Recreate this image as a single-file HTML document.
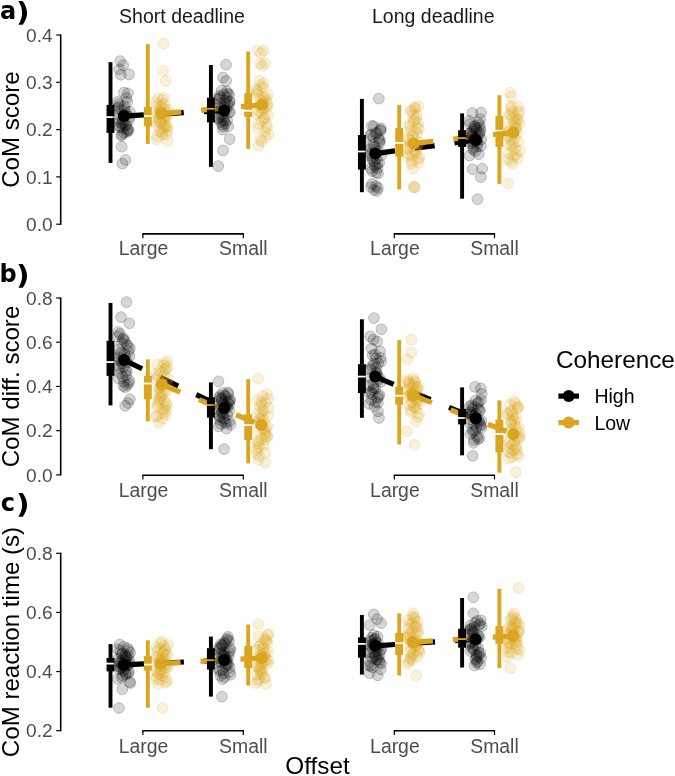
<!DOCTYPE html>
<html><head><meta charset="utf-8"><title>CoM figure</title>
<style>html,body{margin:0;padding:0;background:#fff}svg{display:block}</style>
</head><body>
<svg width="675" height="776" viewBox="0 0 675 776">
<rect width="675" height="776" fill="#fff"/>
<line x1="123.9" y1="116.1" x2="224.1" y2="110.4" stroke="#000000" stroke-width="5.2" stroke-dasharray="20 20"/>
<line x1="161.3" y1="113.6" x2="262.0" y2="104.8" stroke="#DAA520" stroke-width="5.2" stroke-dasharray="20 20"/>
<rect x="108.55" y="62.2" width="3.9" height="43.2" fill="#000000"/>
<rect x="108.55" y="132.4" width="3.9" height="30.5" fill="#000000"/>
<rect x="106.55" y="104.9" width="7.9" height="11.3" fill="#000000"/>
<rect x="106.55" y="118.0" width="7.9" height="14.9" fill="#000000"/>
<rect x="145.85" y="44.2" width="3.9" height="63.3" fill="#DAA520"/>
<rect x="145.85" y="125.8" width="3.9" height="18.1" fill="#DAA520"/>
<rect x="143.85" y="107.0" width="7.9" height="8.1" fill="#DAA520"/>
<rect x="143.85" y="116.9" width="7.9" height="9.4" fill="#DAA520"/>
<rect x="208.95" y="65.0" width="3.9" height="33.2" fill="#000000"/>
<rect x="208.95" y="121.9" width="3.9" height="45.0" fill="#000000"/>
<rect x="206.95" y="97.7" width="7.9" height="10.2" fill="#000000"/>
<rect x="206.95" y="109.7" width="7.9" height="12.7" fill="#000000"/>
<rect x="246.25" y="51.5" width="3.9" height="42.1" fill="#DAA520"/>
<rect x="246.25" y="116.4" width="3.9" height="32.5" fill="#DAA520"/>
<rect x="244.25" y="93.1" width="7.9" height="16.7" fill="#DAA520"/>
<rect x="244.25" y="111.6" width="7.9" height="5.3" fill="#DAA520"/>
<g fill="#000000" fill-opacity="0.16" stroke="#000000" stroke-opacity="0.25" stroke-width="0.8"><circle cx="120.1" cy="61.1" r="5.4"/><circle cx="123.2" cy="65.2" r="5.4"/><circle cx="119.3" cy="69.3" r="5.4"/><circle cx="120.9" cy="74.8" r="5.4"/><circle cx="129.1" cy="74.4" r="5.4"/><circle cx="124.0" cy="92.6" r="5.4"/><circle cx="127.9" cy="93.3" r="5.4"/><circle cx="126.3" cy="98.0" r="5.4"/><circle cx="117.8" cy="101.8" r="5.4"/><circle cx="121.7" cy="146.7" r="5.4"/><circle cx="125.5" cy="159.9" r="5.4"/><circle cx="122.4" cy="163.7" r="5.4"/><circle cx="118.6" cy="106.8" r="5.4"/><circle cx="126.4" cy="124.8" r="5.4"/><circle cx="121.6" cy="123.9" r="5.4"/><circle cx="129.4" cy="116.9" r="5.4"/><circle cx="124.6" cy="109.5" r="5.4"/><circle cx="119.7" cy="122.2" r="5.4"/><circle cx="127.5" cy="128.9" r="5.4"/><circle cx="122.7" cy="127.9" r="5.4"/><circle cx="117.9" cy="108.2" r="5.4"/><circle cx="125.7" cy="116.0" r="5.4"/><circle cx="120.9" cy="110.2" r="5.4"/><circle cx="128.7" cy="130.6" r="5.4"/><circle cx="123.9" cy="132.9" r="5.4"/><circle cx="119.0" cy="104.0" r="5.4"/><circle cx="126.8" cy="132.0" r="5.4"/><circle cx="122.0" cy="134.5" r="5.4"/><circle cx="129.8" cy="111.7" r="5.4"/><circle cx="125.0" cy="114.6" r="5.4"/><circle cx="120.2" cy="127.5" r="5.4"/><circle cx="128.0" cy="129.9" r="5.4"/><circle cx="123.2" cy="123.2" r="5.4"/><circle cx="118.3" cy="118.8" r="5.4"/><circle cx="126.1" cy="113.0" r="5.4"/><circle cx="121.3" cy="135.7" r="5.4"/><circle cx="129.1" cy="119.8" r="5.4"/><circle cx="124.3" cy="106.1" r="5.4"/><circle cx="119.5" cy="126.1" r="5.4"/><circle cx="127.3" cy="101.9" r="5.4"/><circle cx="122.5" cy="120.3" r="5.4"/><circle cx="117.6" cy="114.3" r="5.4"/><circle cx="125.4" cy="125.3" r="5.4"/></g>
<g fill="#DAA520" fill-opacity="0.16" stroke="#DAA520" stroke-opacity="0.25" stroke-width="0.8"><circle cx="163.5" cy="43.5" r="5.4"/><circle cx="163.1" cy="70.9" r="5.4"/><circle cx="165.8" cy="80.9" r="5.4"/><circle cx="166.5" cy="126.0" r="5.4"/><circle cx="161.7" cy="131.8" r="5.4"/><circle cx="156.9" cy="139.4" r="5.4"/><circle cx="164.7" cy="127.5" r="5.4"/><circle cx="159.8" cy="120.0" r="5.4"/><circle cx="167.6" cy="130.5" r="5.4"/><circle cx="162.8" cy="120.4" r="5.4"/><circle cx="158.0" cy="98.5" r="5.4"/><circle cx="165.8" cy="115.5" r="5.4"/><circle cx="161.0" cy="123.2" r="5.4"/><circle cx="156.2" cy="102.3" r="5.4"/><circle cx="164.0" cy="108.7" r="5.4"/><circle cx="159.1" cy="109.9" r="5.4"/><circle cx="166.9" cy="127.8" r="5.4"/><circle cx="162.1" cy="99.8" r="5.4"/><circle cx="157.3" cy="105.6" r="5.4"/><circle cx="165.1" cy="116.4" r="5.4"/><circle cx="160.3" cy="107.0" r="5.4"/><circle cx="168.1" cy="109.5" r="5.4"/><circle cx="163.2" cy="129.0" r="5.4"/><circle cx="158.4" cy="118.6" r="5.4"/><circle cx="166.2" cy="134.2" r="5.4"/><circle cx="161.4" cy="111.7" r="5.4"/><circle cx="156.6" cy="125.5" r="5.4"/><circle cx="164.4" cy="124.8" r="5.4"/><circle cx="159.6" cy="131.4" r="5.4"/><circle cx="167.4" cy="140.8" r="5.4"/><circle cx="162.5" cy="134.6" r="5.4"/><circle cx="157.7" cy="114.1" r="5.4"/><circle cx="165.5" cy="118.3" r="5.4"/><circle cx="160.7" cy="111.0" r="5.4"/><circle cx="155.9" cy="121.5" r="5.4"/><circle cx="163.7" cy="97.6" r="5.4"/><circle cx="158.9" cy="114.3" r="5.4"/><circle cx="166.7" cy="112.5" r="5.4"/><circle cx="161.8" cy="104.5" r="5.4"/><circle cx="157.0" cy="136.3" r="5.4"/><circle cx="164.8" cy="103.9" r="5.4"/><circle cx="160.0" cy="122.2" r="5.4"/><circle cx="167.8" cy="117.0" r="5.4"/></g>
<g fill="#000000" fill-opacity="0.16" stroke="#000000" stroke-opacity="0.25" stroke-width="0.8"><circle cx="226.1" cy="64.7" r="5.4"/><circle cx="223.0" cy="77.4" r="5.4"/><circle cx="226.1" cy="80.9" r="5.4"/><circle cx="229.6" cy="139.1" r="5.4"/><circle cx="223.0" cy="150.4" r="5.4"/><circle cx="218.3" cy="166.1" r="5.4"/><circle cx="221.1" cy="117.2" r="5.4"/><circle cx="228.9" cy="105.4" r="5.4"/><circle cx="224.1" cy="94.4" r="5.4"/><circle cx="219.3" cy="95.9" r="5.4"/><circle cx="227.1" cy="120.2" r="5.4"/><circle cx="222.3" cy="124.6" r="5.4"/><circle cx="230.1" cy="112.1" r="5.4"/><circle cx="225.3" cy="123.8" r="5.4"/><circle cx="220.4" cy="97.3" r="5.4"/><circle cx="228.2" cy="126.3" r="5.4"/><circle cx="223.4" cy="119.7" r="5.4"/><circle cx="218.6" cy="99.7" r="5.4"/><circle cx="226.4" cy="97.6" r="5.4"/><circle cx="221.6" cy="90.6" r="5.4"/><circle cx="229.4" cy="101.9" r="5.4"/><circle cx="224.6" cy="103.2" r="5.4"/><circle cx="219.7" cy="107.4" r="5.4"/><circle cx="227.5" cy="104.2" r="5.4"/><circle cx="222.7" cy="129.7" r="5.4"/><circle cx="217.9" cy="118.8" r="5.4"/><circle cx="225.7" cy="100.8" r="5.4"/><circle cx="220.9" cy="122.0" r="5.4"/><circle cx="228.7" cy="112.8" r="5.4"/><circle cx="223.8" cy="116.1" r="5.4"/><circle cx="219.0" cy="117.9" r="5.4"/><circle cx="226.8" cy="91.5" r="5.4"/><circle cx="222.0" cy="114.4" r="5.4"/><circle cx="229.8" cy="101.4" r="5.4"/><circle cx="225.0" cy="106.6" r="5.4"/><circle cx="220.2" cy="103.5" r="5.4"/><circle cx="228.0" cy="93.6" r="5.4"/><circle cx="223.1" cy="126.4" r="5.4"/><circle cx="218.3" cy="98.6" r="5.4"/><circle cx="226.1" cy="110.3" r="5.4"/><circle cx="221.3" cy="108.7" r="5.4"/><circle cx="229.1" cy="95.1" r="5.4"/><circle cx="224.3" cy="121.0" r="5.4"/></g>
<g fill="#DAA520" fill-opacity="0.16" stroke="#DAA520" stroke-opacity="0.25" stroke-width="0.8"><circle cx="257.4" cy="50.8" r="5.4"/><circle cx="263.5" cy="50.4" r="5.4"/><circle cx="260.9" cy="53.0" r="5.4"/><circle cx="260.0" cy="63.5" r="5.4"/><circle cx="265.2" cy="63.5" r="5.4"/><circle cx="262.0" cy="66.0" r="5.4"/><circle cx="267.8" cy="106.2" r="5.4"/><circle cx="263.0" cy="109.3" r="5.4"/><circle cx="258.2" cy="128.4" r="5.4"/><circle cx="265.9" cy="108.3" r="5.4"/><circle cx="261.1" cy="113.0" r="5.4"/><circle cx="256.3" cy="89.5" r="5.4"/><circle cx="264.1" cy="119.0" r="5.4"/><circle cx="259.3" cy="81.0" r="5.4"/><circle cx="267.1" cy="127.3" r="5.4"/><circle cx="262.3" cy="107.9" r="5.4"/><circle cx="257.5" cy="94.3" r="5.4"/><circle cx="265.2" cy="97.1" r="5.4"/><circle cx="260.4" cy="99.5" r="5.4"/><circle cx="268.2" cy="115.1" r="5.4"/><circle cx="263.4" cy="97.4" r="5.4"/><circle cx="258.6" cy="145.7" r="5.4"/><circle cx="266.4" cy="100.8" r="5.4"/><circle cx="261.6" cy="141.3" r="5.4"/><circle cx="256.8" cy="92.3" r="5.4"/><circle cx="264.5" cy="117.7" r="5.4"/><circle cx="259.7" cy="104.6" r="5.4"/><circle cx="267.5" cy="103.5" r="5.4"/><circle cx="262.7" cy="86.9" r="5.4"/><circle cx="257.9" cy="91.0" r="5.4"/><circle cx="265.7" cy="137.0" r="5.4"/><circle cx="260.9" cy="85.3" r="5.4"/><circle cx="268.6" cy="134.3" r="5.4"/><circle cx="263.8" cy="83.4" r="5.4"/><circle cx="259.0" cy="123.5" r="5.4"/><circle cx="266.8" cy="124.4" r="5.4"/><circle cx="262.0" cy="120.3" r="5.4"/><circle cx="257.2" cy="113.7" r="5.4"/><circle cx="265.0" cy="131.2" r="5.4"/><circle cx="260.2" cy="139.8" r="5.4"/><circle cx="267.9" cy="94.6" r="5.4"/><circle cx="263.1" cy="101.6" r="5.4"/><circle cx="258.3" cy="111.1" r="5.4"/></g>
<circle cx="123.9" cy="116.1" r="6" fill="#000000"/>
<circle cx="161.3" cy="113.6" r="6" fill="#DAA520"/>
<circle cx="224.1" cy="110.4" r="6" fill="#000000"/>
<circle cx="262.0" cy="104.8" r="6" fill="#DAA520"/>
<line x1="375.2" y1="153.6" x2="475.7" y2="140.1" stroke="#000000" stroke-width="5.2" stroke-dasharray="20 20"/>
<line x1="413.5" y1="143.4" x2="513.4" y2="132.4" stroke="#DAA520" stroke-width="5.2" stroke-dasharray="20 20"/>
<rect x="359.95" y="98.9" width="3.9" height="36.6" fill="#000000"/>
<rect x="359.95" y="169.1" width="3.9" height="23.1" fill="#000000"/>
<rect x="357.95" y="135.0" width="7.9" height="15.6" fill="#000000"/>
<rect x="357.95" y="152.4" width="7.9" height="17.2" fill="#000000"/>
<rect x="397.25" y="105.0" width="3.9" height="23.5" fill="#DAA520"/>
<rect x="397.25" y="156.0" width="3.9" height="33.3" fill="#DAA520"/>
<rect x="395.25" y="128.0" width="7.9" height="14.0" fill="#DAA520"/>
<rect x="395.25" y="143.8" width="7.9" height="12.7" fill="#DAA520"/>
<rect x="460.15" y="113.4" width="3.9" height="17.3" fill="#000000"/>
<rect x="460.15" y="146.4" width="3.9" height="52.3" fill="#000000"/>
<rect x="458.15" y="130.2" width="7.9" height="7.0" fill="#000000"/>
<rect x="458.15" y="139.0" width="7.9" height="7.9" fill="#000000"/>
<rect x="497.45" y="95.2" width="3.9" height="21.3" fill="#DAA520"/>
<rect x="497.45" y="146.4" width="3.9" height="37.5" fill="#DAA520"/>
<rect x="495.45" y="116.0" width="7.9" height="13.9" fill="#DAA520"/>
<rect x="495.45" y="131.7" width="7.9" height="15.2" fill="#DAA520"/>
<g fill="#000000" fill-opacity="0.16" stroke="#000000" stroke-opacity="0.25" stroke-width="0.8"><circle cx="378.8" cy="98.6" r="5.4"/><circle cx="372.0" cy="184.0" r="5.4"/><circle cx="376.0" cy="186.0" r="5.4"/><circle cx="378.0" cy="188.0" r="5.4"/><circle cx="374.0" cy="190.0" r="5.4"/><circle cx="371.0" cy="187.0" r="5.4"/><circle cx="377.0" cy="191.0" r="5.4"/><circle cx="379.4" cy="143.0" r="5.4"/><circle cx="374.6" cy="147.0" r="5.4"/><circle cx="369.8" cy="149.1" r="5.4"/><circle cx="377.6" cy="168.1" r="5.4"/><circle cx="372.8" cy="160.4" r="5.4"/><circle cx="380.6" cy="130.6" r="5.4"/><circle cx="375.8" cy="150.1" r="5.4"/><circle cx="370.9" cy="168.3" r="5.4"/><circle cx="378.7" cy="151.4" r="5.4"/><circle cx="373.9" cy="126.3" r="5.4"/><circle cx="369.1" cy="146.1" r="5.4"/><circle cx="376.9" cy="132.8" r="5.4"/><circle cx="372.1" cy="171.1" r="5.4"/><circle cx="379.9" cy="139.9" r="5.4"/><circle cx="375.1" cy="166.6" r="5.4"/><circle cx="370.2" cy="135.4" r="5.4"/><circle cx="378.0" cy="173.4" r="5.4"/><circle cx="373.2" cy="137.3" r="5.4"/><circle cx="381.0" cy="128.2" r="5.4"/><circle cx="376.2" cy="172.5" r="5.4"/><circle cx="371.4" cy="134.4" r="5.4"/><circle cx="379.2" cy="162.9" r="5.4"/><circle cx="374.4" cy="161.4" r="5.4"/><circle cx="369.5" cy="155.8" r="5.4"/><circle cx="377.3" cy="164.2" r="5.4"/><circle cx="372.5" cy="157.4" r="5.4"/><circle cx="380.3" cy="130.0" r="5.4"/><circle cx="375.5" cy="133.2" r="5.4"/><circle cx="370.7" cy="153.5" r="5.4"/><circle cx="378.5" cy="138.3" r="5.4"/><circle cx="373.7" cy="144.9" r="5.4"/><circle cx="381.4" cy="155.3" r="5.4"/><circle cx="376.6" cy="158.7" r="5.4"/><circle cx="371.8" cy="125.8" r="5.4"/><circle cx="379.6" cy="141.3" r="5.4"/><circle cx="374.8" cy="164.9" r="5.4"/></g>
<g fill="#DAA520" fill-opacity="0.16" stroke="#DAA520" stroke-opacity="0.25" stroke-width="0.8"><circle cx="414.2" cy="186.6" r="5.4"/><circle cx="414.8" cy="187.6" r="5.4"/><circle cx="413.6" cy="187.2" r="5.4"/><circle cx="418.0" cy="158.8" r="5.4"/><circle cx="413.2" cy="136.8" r="5.4"/><circle cx="408.3" cy="149.0" r="5.4"/><circle cx="416.1" cy="150.0" r="5.4"/><circle cx="411.3" cy="163.7" r="5.4"/><circle cx="419.1" cy="129.0" r="5.4"/><circle cx="414.3" cy="107.4" r="5.4"/><circle cx="409.5" cy="124.0" r="5.4"/><circle cx="417.3" cy="133.5" r="5.4"/><circle cx="412.5" cy="135.6" r="5.4"/><circle cx="407.6" cy="137.8" r="5.4"/><circle cx="415.4" cy="108.2" r="5.4"/><circle cx="410.6" cy="142.8" r="5.4"/><circle cx="418.4" cy="106.4" r="5.4"/><circle cx="413.6" cy="121.2" r="5.4"/><circle cx="408.8" cy="140.0" r="5.4"/><circle cx="416.6" cy="115.4" r="5.4"/><circle cx="411.8" cy="110.1" r="5.4"/><circle cx="419.5" cy="142.3" r="5.4"/><circle cx="414.7" cy="131.7" r="5.4"/><circle cx="409.9" cy="144.8" r="5.4"/><circle cx="417.7" cy="127.4" r="5.4"/><circle cx="412.9" cy="168.5" r="5.4"/><circle cx="408.1" cy="156.7" r="5.4"/><circle cx="415.9" cy="153.0" r="5.4"/><circle cx="411.0" cy="130.8" r="5.4"/><circle cx="418.8" cy="162.8" r="5.4"/><circle cx="414.0" cy="120.2" r="5.4"/><circle cx="409.2" cy="126.3" r="5.4"/><circle cx="417.0" cy="146.8" r="5.4"/><circle cx="412.2" cy="155.6" r="5.4"/><circle cx="407.4" cy="148.0" r="5.4"/><circle cx="415.2" cy="151.1" r="5.4"/><circle cx="410.3" cy="111.9" r="5.4"/><circle cx="418.1" cy="122.9" r="5.4"/><circle cx="413.3" cy="114.1" r="5.4"/><circle cx="408.5" cy="154.0" r="5.4"/><circle cx="416.3" cy="118.6" r="5.4"/><circle cx="411.5" cy="160.8" r="5.4"/><circle cx="419.3" cy="157.6" r="5.4"/></g>
<g fill="#000000" fill-opacity="0.16" stroke="#000000" stroke-opacity="0.25" stroke-width="0.8"><circle cx="472.4" cy="112.9" r="5.4"/><circle cx="480.9" cy="112.5" r="5.4"/><circle cx="472.4" cy="169.3" r="5.4"/><circle cx="482.2" cy="168.6" r="5.4"/><circle cx="480.9" cy="177.1" r="5.4"/><circle cx="477.5" cy="199.2" r="5.4"/><circle cx="476.8" cy="140.2" r="5.4"/><circle cx="472.0" cy="144.1" r="5.4"/><circle cx="479.7" cy="124.8" r="5.4"/><circle cx="474.9" cy="126.0" r="5.4"/><circle cx="470.1" cy="132.9" r="5.4"/><circle cx="477.9" cy="136.1" r="5.4"/><circle cx="473.1" cy="149.5" r="5.4"/><circle cx="480.9" cy="146.1" r="5.4"/><circle cx="476.1" cy="127.8" r="5.4"/><circle cx="471.3" cy="142.9" r="5.4"/><circle cx="479.0" cy="132.4" r="5.4"/><circle cx="474.2" cy="129.2" r="5.4"/><circle cx="469.4" cy="155.6" r="5.4"/><circle cx="477.2" cy="146.4" r="5.4"/><circle cx="472.4" cy="135.1" r="5.4"/><circle cx="480.2" cy="119.1" r="5.4"/><circle cx="475.4" cy="151.2" r="5.4"/><circle cx="470.5" cy="133.4" r="5.4"/><circle cx="478.3" cy="122.5" r="5.4"/><circle cx="473.5" cy="147.6" r="5.4"/><circle cx="481.3" cy="139.2" r="5.4"/><circle cx="476.5" cy="130.2" r="5.4"/><circle cx="471.7" cy="137.4" r="5.4"/><circle cx="479.5" cy="134.1" r="5.4"/><circle cx="474.7" cy="138.5" r="5.4"/><circle cx="469.8" cy="124.0" r="5.4"/><circle cx="477.6" cy="143.3" r="5.4"/><circle cx="472.8" cy="141.5" r="5.4"/><circle cx="480.6" cy="130.8" r="5.4"/><circle cx="475.8" cy="138.0" r="5.4"/><circle cx="471.0" cy="135.7" r="5.4"/><circle cx="478.8" cy="154.2" r="5.4"/><circle cx="474.0" cy="126.9" r="5.4"/><circle cx="469.1" cy="120.8" r="5.4"/><circle cx="476.9" cy="141.3" r="5.4"/><circle cx="472.1" cy="131.5" r="5.4"/><circle cx="479.9" cy="127.9" r="5.4"/></g>
<g fill="#DAA520" fill-opacity="0.16" stroke="#DAA520" stroke-opacity="0.25" stroke-width="0.8"><circle cx="510.3" cy="92.7" r="5.4"/><circle cx="511.1" cy="96.6" r="5.4"/><circle cx="508.0" cy="183.3" r="5.4"/><circle cx="507.5" cy="127.0" r="5.4"/><circle cx="515.3" cy="148.6" r="5.4"/><circle cx="510.5" cy="161.8" r="5.4"/><circle cx="518.3" cy="141.2" r="5.4"/><circle cx="513.5" cy="156.5" r="5.4"/><circle cx="508.7" cy="153.5" r="5.4"/><circle cx="516.5" cy="127.9" r="5.4"/><circle cx="511.7" cy="144.4" r="5.4"/><circle cx="519.4" cy="123.7" r="5.4"/><circle cx="514.6" cy="138.0" r="5.4"/><circle cx="509.8" cy="146.0" r="5.4"/><circle cx="517.6" cy="158.1" r="5.4"/><circle cx="512.8" cy="164.0" r="5.4"/><circle cx="508.0" cy="135.5" r="5.4"/><circle cx="515.8" cy="129.0" r="5.4"/><circle cx="511.0" cy="108.2" r="5.4"/><circle cx="518.7" cy="113.4" r="5.4"/><circle cx="513.9" cy="121.7" r="5.4"/><circle cx="509.1" cy="114.1" r="5.4"/><circle cx="516.9" cy="119.3" r="5.4"/><circle cx="512.1" cy="117.9" r="5.4"/><circle cx="519.9" cy="150.7" r="5.4"/><circle cx="515.1" cy="116.9" r="5.4"/><circle cx="510.3" cy="115.5" r="5.4"/><circle cx="518.0" cy="106.4" r="5.4"/><circle cx="513.2" cy="150.0" r="5.4"/><circle cx="508.4" cy="132.1" r="5.4"/><circle cx="516.2" cy="154.8" r="5.4"/><circle cx="511.4" cy="106.1" r="5.4"/><circle cx="519.2" cy="111.1" r="5.4"/><circle cx="514.4" cy="125.3" r="5.4"/><circle cx="509.6" cy="130.3" r="5.4"/><circle cx="517.3" cy="132.7" r="5.4"/><circle cx="512.5" cy="111.7" r="5.4"/><circle cx="507.7" cy="159.1" r="5.4"/><circle cx="515.5" cy="123.2" r="5.4"/><circle cx="510.7" cy="139.8" r="5.4"/><circle cx="518.5" cy="119.7" r="5.4"/><circle cx="513.7" cy="142.4" r="5.4"/><circle cx="508.8" cy="136.7" r="5.4"/></g>
<circle cx="375.2" cy="153.6" r="6" fill="#000000"/>
<circle cx="413.5" cy="143.4" r="6" fill="#DAA520"/>
<circle cx="475.7" cy="140.1" r="6" fill="#000000"/>
<circle cx="513.4" cy="132.4" r="6" fill="#DAA520"/>
<line x1="124.1" y1="360.1" x2="224.1" y2="408.0" stroke="#000000" stroke-width="5.2" stroke-dasharray="20 20"/>
<line x1="161.8" y1="384.6" x2="261.3" y2="425.1" stroke="#DAA520" stroke-width="5.2" stroke-dasharray="20 20"/>
<rect x="108.55" y="303.0" width="3.9" height="38.3" fill="#000000"/>
<rect x="108.55" y="375.4" width="3.9" height="30.0" fill="#000000"/>
<rect x="106.55" y="340.8" width="7.9" height="20.4" fill="#000000"/>
<rect x="106.55" y="363.0" width="7.9" height="12.9" fill="#000000"/>
<rect x="145.85" y="359.4" width="3.9" height="17.0" fill="#DAA520"/>
<rect x="145.85" y="398.8" width="3.9" height="22.6" fill="#DAA520"/>
<rect x="143.85" y="375.9" width="7.9" height="6.7" fill="#DAA520"/>
<rect x="143.85" y="384.4" width="7.9" height="14.9" fill="#DAA520"/>
<rect x="208.95" y="382.4" width="3.9" height="15.3" fill="#000000"/>
<rect x="208.95" y="417.1" width="3.9" height="32.1" fill="#000000"/>
<rect x="206.95" y="397.2" width="7.9" height="6.9" fill="#000000"/>
<rect x="206.95" y="405.9" width="7.9" height="11.7" fill="#000000"/>
<rect x="246.25" y="379.1" width="3.9" height="35.6" fill="#DAA520"/>
<rect x="246.25" y="439.5" width="3.9" height="23.9" fill="#DAA520"/>
<rect x="244.25" y="414.2" width="7.9" height="10.0" fill="#DAA520"/>
<rect x="244.25" y="426.0" width="7.9" height="14.0" fill="#DAA520"/>
<g fill="#000000" fill-opacity="0.16" stroke="#000000" stroke-opacity="0.25" stroke-width="0.8"><circle cx="126.5" cy="302.1" r="5.4"/><circle cx="121.1" cy="317.1" r="5.4"/><circle cx="129.5" cy="323.3" r="5.4"/><circle cx="118.3" cy="332.0" r="5.4"/><circle cx="128.0" cy="403.0" r="5.4"/><circle cx="125.2" cy="405.8" r="5.4"/><circle cx="129.9" cy="399.3" r="5.4"/><circle cx="123.5" cy="366.9" r="5.4"/><circle cx="118.7" cy="349.4" r="5.4"/><circle cx="126.5" cy="344.4" r="5.4"/><circle cx="121.7" cy="343.2" r="5.4"/><circle cx="129.5" cy="356.3" r="5.4"/><circle cx="124.7" cy="340.9" r="5.4"/><circle cx="119.9" cy="334.0" r="5.4"/><circle cx="127.6" cy="362.6" r="5.4"/><circle cx="122.8" cy="339.5" r="5.4"/><circle cx="118.0" cy="365.4" r="5.4"/><circle cx="125.8" cy="358.1" r="5.4"/><circle cx="121.0" cy="352.3" r="5.4"/><circle cx="128.8" cy="382.9" r="5.4"/><circle cx="124.0" cy="381.9" r="5.4"/><circle cx="119.2" cy="360.6" r="5.4"/><circle cx="126.9" cy="371.2" r="5.4"/><circle cx="122.1" cy="363.5" r="5.4"/><circle cx="129.9" cy="348.4" r="5.4"/><circle cx="125.1" cy="387.1" r="5.4"/><circle cx="120.3" cy="354.3" r="5.4"/><circle cx="128.1" cy="346.0" r="5.4"/><circle cx="123.3" cy="385.9" r="5.4"/><circle cx="118.5" cy="378.4" r="5.4"/><circle cx="126.2" cy="375.2" r="5.4"/><circle cx="121.4" cy="360.9" r="5.4"/><circle cx="129.2" cy="380.5" r="5.4"/><circle cx="124.4" cy="353.9" r="5.4"/><circle cx="119.6" cy="367.6" r="5.4"/><circle cx="127.4" cy="385.0" r="5.4"/><circle cx="122.6" cy="376.7" r="5.4"/><circle cx="117.8" cy="336.5" r="5.4"/><circle cx="125.5" cy="370.5" r="5.4"/><circle cx="120.7" cy="373.2" r="5.4"/><circle cx="128.5" cy="351.5" r="5.4"/><circle cx="123.7" cy="338.3" r="5.4"/><circle cx="118.9" cy="357.8" r="5.4"/></g>
<g fill="#DAA520" fill-opacity="0.16" stroke="#DAA520" stroke-opacity="0.25" stroke-width="0.8"><circle cx="167.3" cy="361.5" r="5.4"/><circle cx="162.4" cy="418.7" r="5.4"/><circle cx="157.6" cy="364.6" r="5.4"/><circle cx="165.4" cy="369.8" r="5.4"/><circle cx="160.6" cy="398.8" r="5.4"/><circle cx="155.8" cy="416.8" r="5.4"/><circle cx="163.6" cy="365.5" r="5.4"/><circle cx="158.8" cy="399.6" r="5.4"/><circle cx="166.6" cy="405.3" r="5.4"/><circle cx="161.7" cy="383.0" r="5.4"/><circle cx="156.9" cy="407.0" r="5.4"/><circle cx="164.7" cy="362.9" r="5.4"/><circle cx="159.9" cy="387.7" r="5.4"/><circle cx="167.7" cy="384.1" r="5.4"/><circle cx="162.9" cy="412.5" r="5.4"/><circle cx="158.1" cy="401.8" r="5.4"/><circle cx="165.8" cy="368.4" r="5.4"/><circle cx="161.0" cy="385.8" r="5.4"/><circle cx="156.2" cy="374.2" r="5.4"/><circle cx="164.0" cy="375.9" r="5.4"/><circle cx="159.2" cy="388.3" r="5.4"/><circle cx="167.0" cy="390.3" r="5.4"/><circle cx="162.2" cy="395.3" r="5.4"/><circle cx="157.4" cy="376.3" r="5.4"/><circle cx="165.1" cy="408.0" r="5.4"/><circle cx="160.3" cy="396.6" r="5.4"/><circle cx="168.1" cy="378.2" r="5.4"/><circle cx="163.3" cy="409.4" r="5.4"/><circle cx="158.5" cy="393.9" r="5.4"/><circle cx="166.3" cy="410.9" r="5.4"/><circle cx="161.5" cy="381.5" r="5.4"/><circle cx="156.7" cy="416.3" r="5.4"/><circle cx="164.4" cy="401.0" r="5.4"/><circle cx="159.6" cy="371.2" r="5.4"/><circle cx="167.4" cy="367.0" r="5.4"/><circle cx="162.6" cy="372.2" r="5.4"/><circle cx="157.8" cy="404.9" r="5.4"/><circle cx="165.6" cy="414.6" r="5.4"/><circle cx="160.8" cy="391.8" r="5.4"/><circle cx="156.0" cy="379.4" r="5.4"/><circle cx="163.7" cy="393.2" r="5.4"/><circle cx="158.9" cy="422.8" r="5.4"/><circle cx="166.7" cy="403.6" r="5.4"/></g>
<g fill="#000000" fill-opacity="0.16" stroke="#000000" stroke-opacity="0.25" stroke-width="0.8"><circle cx="218.5" cy="381.3" r="5.4"/><circle cx="224.1" cy="449.1" r="5.4"/><circle cx="221.6" cy="412.3" r="5.4"/><circle cx="229.3" cy="404.5" r="5.4"/><circle cx="224.5" cy="418.7" r="5.4"/><circle cx="219.7" cy="415.7" r="5.4"/><circle cx="227.5" cy="407.8" r="5.4"/><circle cx="222.7" cy="417.9" r="5.4"/><circle cx="230.5" cy="424.5" r="5.4"/><circle cx="225.7" cy="396.7" r="5.4"/><circle cx="220.9" cy="398.3" r="5.4"/><circle cx="228.6" cy="401.4" r="5.4"/><circle cx="223.8" cy="403.6" r="5.4"/><circle cx="219.0" cy="397.7" r="5.4"/><circle cx="226.8" cy="406.4" r="5.4"/><circle cx="222.0" cy="402.0" r="5.4"/><circle cx="229.8" cy="401.1" r="5.4"/><circle cx="225.0" cy="407.4" r="5.4"/><circle cx="220.2" cy="395.7" r="5.4"/><circle cx="227.9" cy="392.5" r="5.4"/><circle cx="223.1" cy="408.7" r="5.4"/><circle cx="218.3" cy="409.6" r="5.4"/><circle cx="226.1" cy="423.1" r="5.4"/><circle cx="221.3" cy="398.7" r="5.4"/><circle cx="229.1" cy="411.0" r="5.4"/><circle cx="224.3" cy="421.9" r="5.4"/><circle cx="219.5" cy="416.8" r="5.4"/><circle cx="227.2" cy="414.6" r="5.4"/><circle cx="222.4" cy="411.9" r="5.4"/><circle cx="230.2" cy="399.4" r="5.4"/><circle cx="225.4" cy="405.3" r="5.4"/><circle cx="220.6" cy="423.8" r="5.4"/><circle cx="228.4" cy="394.1" r="5.4"/><circle cx="223.6" cy="413.4" r="5.4"/><circle cx="218.8" cy="426.4" r="5.4"/><circle cx="226.5" cy="428.5" r="5.4"/><circle cx="221.7" cy="400.1" r="5.4"/><circle cx="229.5" cy="421.1" r="5.4"/><circle cx="224.7" cy="395.4" r="5.4"/><circle cx="219.9" cy="420.0" r="5.4"/><circle cx="227.7" cy="403.0" r="5.4"/><circle cx="222.9" cy="392.9" r="5.4"/><circle cx="218.0" cy="405.9" r="5.4"/></g>
<g fill="#DAA520" fill-opacity="0.16" stroke="#DAA520" stroke-opacity="0.25" stroke-width="0.8"><circle cx="258.1" cy="378.6" r="5.4"/><circle cx="258.5" cy="459.8" r="5.4"/><circle cx="265.2" cy="462.8" r="5.4"/><circle cx="257.0" cy="453.2" r="5.4"/><circle cx="264.7" cy="433.1" r="5.4"/><circle cx="259.9" cy="406.1" r="5.4"/><circle cx="267.7" cy="436.4" r="5.4"/><circle cx="262.9" cy="396.2" r="5.4"/><circle cx="258.1" cy="441.4" r="5.4"/><circle cx="265.9" cy="434.2" r="5.4"/><circle cx="261.1" cy="402.0" r="5.4"/><circle cx="256.3" cy="422.8" r="5.4"/><circle cx="264.0" cy="420.4" r="5.4"/><circle cx="259.2" cy="443.7" r="5.4"/><circle cx="267.0" cy="393.8" r="5.4"/><circle cx="262.2" cy="404.8" r="5.4"/><circle cx="257.4" cy="400.1" r="5.4"/><circle cx="265.2" cy="452.8" r="5.4"/><circle cx="260.4" cy="423.8" r="5.4"/><circle cx="268.2" cy="398.5" r="5.4"/><circle cx="263.3" cy="411.3" r="5.4"/><circle cx="258.5" cy="447.7" r="5.4"/><circle cx="266.3" cy="427.9" r="5.4"/><circle cx="261.5" cy="438.2" r="5.4"/><circle cx="256.7" cy="450.0" r="5.4"/><circle cx="264.5" cy="429.9" r="5.4"/><circle cx="259.7" cy="421.3" r="5.4"/><circle cx="267.5" cy="426.1" r="5.4"/><circle cx="262.6" cy="409.6" r="5.4"/><circle cx="257.8" cy="431.4" r="5.4"/><circle cx="265.6" cy="402.6" r="5.4"/><circle cx="260.8" cy="414.8" r="5.4"/><circle cx="268.6" cy="408.1" r="5.4"/><circle cx="263.8" cy="445.2" r="5.4"/><circle cx="259.0" cy="455.8" r="5.4"/><circle cx="266.7" cy="436.6" r="5.4"/><circle cx="261.9" cy="417.1" r="5.4"/><circle cx="257.1" cy="443.0" r="5.4"/><circle cx="264.9" cy="439.2" r="5.4"/><circle cx="260.1" cy="418.9" r="5.4"/><circle cx="267.9" cy="415.8" r="5.4"/><circle cx="263.1" cy="428.6" r="5.4"/><circle cx="258.3" cy="413.1" r="5.4"/></g>
<circle cx="124.1" cy="360.1" r="6" fill="#000000"/>
<circle cx="161.8" cy="384.6" r="6" fill="#DAA520"/>
<circle cx="224.1" cy="408.0" r="6" fill="#000000"/>
<circle cx="261.3" cy="425.1" r="6" fill="#DAA520"/>
<line x1="375.2" y1="376.6" x2="475.7" y2="418.5" stroke="#000000" stroke-width="5.2" stroke-dasharray="20 20"/>
<line x1="413.2" y1="395.5" x2="513.4" y2="434.1" stroke="#DAA520" stroke-width="5.2" stroke-dasharray="20 20"/>
<rect x="359.95" y="319.3" width="3.9" height="45.4" fill="#000000"/>
<rect x="359.95" y="392.6" width="3.9" height="25.2" fill="#000000"/>
<rect x="357.95" y="364.2" width="7.9" height="11.5" fill="#000000"/>
<rect x="357.95" y="377.5" width="7.9" height="15.6" fill="#000000"/>
<rect x="397.25" y="340.1" width="3.9" height="46.9" fill="#DAA520"/>
<rect x="397.25" y="404.2" width="3.9" height="40.3" fill="#DAA520"/>
<rect x="395.25" y="386.5" width="7.9" height="8.3" fill="#DAA520"/>
<rect x="395.25" y="396.6" width="7.9" height="8.1" fill="#DAA520"/>
<rect x="460.15" y="387.4" width="3.9" height="21.9" fill="#000000"/>
<rect x="460.15" y="423.9" width="3.9" height="31.4" fill="#000000"/>
<rect x="458.15" y="408.8" width="7.9" height="8.3" fill="#000000"/>
<rect x="458.15" y="418.9" width="7.9" height="5.5" fill="#000000"/>
<rect x="497.45" y="400.4" width="3.9" height="19.8" fill="#DAA520"/>
<rect x="497.45" y="451.9" width="3.9" height="20.8" fill="#DAA520"/>
<rect x="495.45" y="419.7" width="7.9" height="13.3" fill="#DAA520"/>
<rect x="495.45" y="434.8" width="7.9" height="17.6" fill="#DAA520"/>
<g fill="#000000" fill-opacity="0.16" stroke="#000000" stroke-opacity="0.25" stroke-width="0.8"><circle cx="373.9" cy="318.1" r="5.4"/><circle cx="381.4" cy="329.3" r="5.4"/><circle cx="370.2" cy="336.4" r="5.4"/><circle cx="373.4" cy="339.6" r="5.4"/><circle cx="377.1" cy="341.4" r="5.4"/><circle cx="379.0" cy="418.0" r="5.4"/><circle cx="378.0" cy="411.5" r="5.4"/><circle cx="375.9" cy="358.5" r="5.4"/><circle cx="371.1" cy="391.8" r="5.4"/><circle cx="378.9" cy="379.8" r="5.4"/><circle cx="374.1" cy="363.6" r="5.4"/><circle cx="369.2" cy="403.8" r="5.4"/><circle cx="377.0" cy="374.9" r="5.4"/><circle cx="372.2" cy="394.2" r="5.4"/><circle cx="380.0" cy="351.4" r="5.4"/><circle cx="375.2" cy="401.7" r="5.4"/><circle cx="370.4" cy="377.7" r="5.4"/><circle cx="378.2" cy="363.1" r="5.4"/><circle cx="373.4" cy="389.4" r="5.4"/><circle cx="381.1" cy="361.5" r="5.4"/><circle cx="376.3" cy="372.1" r="5.4"/><circle cx="371.5" cy="348.6" r="5.4"/><circle cx="379.3" cy="394.9" r="5.4"/><circle cx="374.5" cy="406.5" r="5.4"/><circle cx="369.7" cy="393.0" r="5.4"/><circle cx="377.5" cy="397.8" r="5.4"/><circle cx="372.7" cy="355.4" r="5.4"/><circle cx="380.4" cy="357.9" r="5.4"/><circle cx="375.6" cy="388.8" r="5.4"/><circle cx="370.8" cy="369.0" r="5.4"/><circle cx="378.6" cy="396.4" r="5.4"/><circle cx="373.8" cy="387.6" r="5.4"/><circle cx="369.0" cy="385.5" r="5.4"/><circle cx="376.8" cy="373.2" r="5.4"/><circle cx="372.0" cy="366.1" r="5.4"/><circle cx="379.7" cy="378.1" r="5.4"/><circle cx="374.9" cy="354.4" r="5.4"/><circle cx="370.1" cy="369.8" r="5.4"/><circle cx="377.9" cy="402.8" r="5.4"/><circle cx="373.1" cy="384.0" r="5.4"/><circle cx="380.9" cy="381.9" r="5.4"/><circle cx="376.1" cy="367.6" r="5.4"/><circle cx="371.3" cy="399.9" r="5.4"/></g>
<g fill="#DAA520" fill-opacity="0.16" stroke="#DAA520" stroke-opacity="0.25" stroke-width="0.8"><circle cx="411.3" cy="339.6" r="5.4"/><circle cx="411.3" cy="352.6" r="5.4"/><circle cx="407.5" cy="359.2" r="5.4"/><circle cx="416.3" cy="421.8" r="5.4"/><circle cx="407.0" cy="431.1" r="5.4"/><circle cx="414.5" cy="444.7" r="5.4"/><circle cx="410.2" cy="394.5" r="5.4"/><circle cx="418.0" cy="416.8" r="5.4"/><circle cx="413.2" cy="384.7" r="5.4"/><circle cx="408.4" cy="396.4" r="5.4"/><circle cx="416.1" cy="408.5" r="5.4"/><circle cx="411.3" cy="393.6" r="5.4"/><circle cx="419.1" cy="413.7" r="5.4"/><circle cx="414.3" cy="380.8" r="5.4"/><circle cx="409.5" cy="388.4" r="5.4"/><circle cx="417.3" cy="401.0" r="5.4"/><circle cx="412.5" cy="397.8" r="5.4"/><circle cx="407.6" cy="389.8" r="5.4"/><circle cx="415.4" cy="382.1" r="5.4"/><circle cx="410.6" cy="409.9" r="5.4"/><circle cx="418.4" cy="397.4" r="5.4"/><circle cx="413.6" cy="385.7" r="5.4"/><circle cx="408.8" cy="383.1" r="5.4"/><circle cx="416.6" cy="398.6" r="5.4"/><circle cx="411.8" cy="402.6" r="5.4"/><circle cx="419.5" cy="403.3" r="5.4"/><circle cx="414.7" cy="406.9" r="5.4"/><circle cx="409.9" cy="405.1" r="5.4"/><circle cx="417.7" cy="389.0" r="5.4"/><circle cx="412.9" cy="393.2" r="5.4"/><circle cx="408.1" cy="381.6" r="5.4"/><circle cx="415.9" cy="390.4" r="5.4"/><circle cx="411.1" cy="412.3" r="5.4"/><circle cx="418.8" cy="386.5" r="5.4"/><circle cx="414.0" cy="406.6" r="5.4"/><circle cx="409.2" cy="384.1" r="5.4"/><circle cx="417.0" cy="387.5" r="5.4"/><circle cx="412.2" cy="392.0" r="5.4"/><circle cx="407.4" cy="379.9" r="5.4"/><circle cx="415.2" cy="391.6" r="5.4"/><circle cx="410.4" cy="395.2" r="5.4"/><circle cx="418.1" cy="400.6" r="5.4"/><circle cx="413.3" cy="378.3" r="5.4"/></g>
<g fill="#000000" fill-opacity="0.16" stroke="#000000" stroke-opacity="0.25" stroke-width="0.8"><circle cx="475.0" cy="386.9" r="5.4"/><circle cx="480.9" cy="388.5" r="5.4"/><circle cx="481.8" cy="394.0" r="5.4"/><circle cx="481.1" cy="400.0" r="5.4"/><circle cx="472.7" cy="455.9" r="5.4"/><circle cx="475.5" cy="400.3" r="5.4"/><circle cx="470.7" cy="414.3" r="5.4"/><circle cx="478.5" cy="420.1" r="5.4"/><circle cx="473.7" cy="442.9" r="5.4"/><circle cx="481.4" cy="420.6" r="5.4"/><circle cx="476.6" cy="427.5" r="5.4"/><circle cx="471.8" cy="415.2" r="5.4"/><circle cx="479.6" cy="410.6" r="5.4"/><circle cx="474.8" cy="415.9" r="5.4"/><circle cx="470.0" cy="419.5" r="5.4"/><circle cx="477.8" cy="408.6" r="5.4"/><circle cx="473.0" cy="432.0" r="5.4"/><circle cx="480.7" cy="424.4" r="5.4"/><circle cx="475.9" cy="417.8" r="5.4"/><circle cx="471.1" cy="412.3" r="5.4"/><circle cx="478.9" cy="422.1" r="5.4"/><circle cx="474.1" cy="440.0" r="5.4"/><circle cx="469.3" cy="422.6" r="5.4"/><circle cx="477.1" cy="436.5" r="5.4"/><circle cx="472.2" cy="408.9" r="5.4"/><circle cx="480.0" cy="410.0" r="5.4"/><circle cx="475.2" cy="430.6" r="5.4"/><circle cx="470.4" cy="433.8" r="5.4"/><circle cx="478.2" cy="439.1" r="5.4"/><circle cx="473.4" cy="407.0" r="5.4"/><circle cx="481.2" cy="427.9" r="5.4"/><circle cx="476.4" cy="418.8" r="5.4"/><circle cx="471.5" cy="405.2" r="5.4"/><circle cx="479.3" cy="437.9" r="5.4"/><circle cx="474.5" cy="416.5" r="5.4"/><circle cx="469.7" cy="406.4" r="5.4"/><circle cx="477.5" cy="403.6" r="5.4"/><circle cx="472.7" cy="429.8" r="5.4"/><circle cx="480.5" cy="426.0" r="5.4"/><circle cx="475.7" cy="413.8" r="5.4"/><circle cx="470.8" cy="412.1" r="5.4"/><circle cx="478.6" cy="402.0" r="5.4"/><circle cx="473.8" cy="424.1" r="5.4"/></g>
<g fill="#DAA520" fill-opacity="0.16" stroke="#DAA520" stroke-opacity="0.25" stroke-width="0.8"><circle cx="515.7" cy="472.2" r="5.4"/><circle cx="513.8" cy="435.1" r="5.4"/><circle cx="509.0" cy="432.0" r="5.4"/><circle cx="516.8" cy="454.0" r="5.4"/><circle cx="512.0" cy="457.3" r="5.4"/><circle cx="519.8" cy="436.8" r="5.4"/><circle cx="515.0" cy="425.9" r="5.4"/><circle cx="510.1" cy="429.6" r="5.4"/><circle cx="517.9" cy="406.6" r="5.4"/><circle cx="513.1" cy="450.3" r="5.4"/><circle cx="508.3" cy="440.7" r="5.4"/><circle cx="516.1" cy="445.9" r="5.4"/><circle cx="511.3" cy="420.1" r="5.4"/><circle cx="519.1" cy="432.6" r="5.4"/><circle cx="514.3" cy="441.6" r="5.4"/><circle cx="509.4" cy="447.3" r="5.4"/><circle cx="517.2" cy="437.4" r="5.4"/><circle cx="512.4" cy="444.7" r="5.4"/><circle cx="507.6" cy="414.3" r="5.4"/><circle cx="515.4" cy="403.5" r="5.4"/><circle cx="510.6" cy="453.2" r="5.4"/><circle cx="518.4" cy="456.1" r="5.4"/><circle cx="513.6" cy="417.8" r="5.4"/><circle cx="508.7" cy="458.7" r="5.4"/><circle cx="516.5" cy="418.3" r="5.4"/><circle cx="511.7" cy="423.9" r="5.4"/><circle cx="519.5" cy="438.3" r="5.4"/><circle cx="514.7" cy="421.2" r="5.4"/><circle cx="509.9" cy="404.7" r="5.4"/><circle cx="517.7" cy="408.4" r="5.4"/><circle cx="512.8" cy="415.2" r="5.4"/><circle cx="508.0" cy="451.9" r="5.4"/><circle cx="515.8" cy="429.1" r="5.4"/><circle cx="511.0" cy="422.6" r="5.4"/><circle cx="518.8" cy="427.6" r="5.4"/><circle cx="514.0" cy="400.9" r="5.4"/><circle cx="509.2" cy="443.2" r="5.4"/><circle cx="517.0" cy="449.7" r="5.4"/><circle cx="512.1" cy="411.4" r="5.4"/><circle cx="507.3" cy="413.1" r="5.4"/><circle cx="515.1" cy="448.2" r="5.4"/><circle cx="510.3" cy="411.0" r="5.4"/><circle cx="518.1" cy="407.0" r="5.4"/></g>
<circle cx="375.2" cy="376.6" r="6" fill="#000000"/>
<circle cx="413.2" cy="395.5" r="6" fill="#DAA520"/>
<circle cx="475.7" cy="418.5" r="6" fill="#000000"/>
<circle cx="513.4" cy="434.1" r="6" fill="#DAA520"/>
<line x1="124.0" y1="664.9" x2="224.1" y2="660.1" stroke="#000000" stroke-width="5.2" stroke-dasharray="20 20"/>
<line x1="160.6" y1="663.7" x2="261.8" y2="657.9" stroke="#DAA520" stroke-width="5.2" stroke-dasharray="20 20"/>
<rect x="108.55" y="644.1" width="3.9" height="14.3" fill="#000000"/>
<rect x="108.55" y="670.9" width="3.9" height="36.8" fill="#000000"/>
<rect x="106.55" y="657.9" width="7.9" height="4.8" fill="#000000"/>
<rect x="106.55" y="664.5" width="7.9" height="6.9" fill="#000000"/>
<rect x="145.85" y="640.3" width="3.9" height="16.4" fill="#DAA520"/>
<rect x="145.85" y="670.1" width="3.9" height="37.6" fill="#DAA520"/>
<rect x="143.85" y="656.2" width="7.9" height="7.5" fill="#DAA520"/>
<rect x="143.85" y="665.5" width="7.9" height="5.1" fill="#DAA520"/>
<rect x="208.95" y="636.6" width="3.9" height="12.1" fill="#000000"/>
<rect x="208.95" y="669.0" width="3.9" height="27.6" fill="#000000"/>
<rect x="206.95" y="648.2" width="7.9" height="11.1" fill="#000000"/>
<rect x="206.95" y="661.1" width="7.9" height="8.4" fill="#000000"/>
<rect x="246.25" y="624.6" width="3.9" height="21.9" fill="#DAA520"/>
<rect x="246.25" y="667.6" width="3.9" height="17.9" fill="#DAA520"/>
<rect x="244.25" y="646.0" width="7.9" height="12.1" fill="#DAA520"/>
<rect x="244.25" y="659.9" width="7.9" height="8.2" fill="#DAA520"/>
<g fill="#000000" fill-opacity="0.16" stroke="#000000" stroke-opacity="0.25" stroke-width="0.8"><circle cx="122.3" cy="689.3" r="5.4"/><circle cx="119.0" cy="708.0" r="5.4"/><circle cx="130.5" cy="683.0" r="5.4"/><circle cx="129.5" cy="682.0" r="5.4"/><circle cx="122.6" cy="659.1" r="5.4"/><circle cx="117.7" cy="649.2" r="5.4"/><circle cx="125.5" cy="660.2" r="5.4"/><circle cx="120.7" cy="667.3" r="5.4"/><circle cx="128.5" cy="655.9" r="5.4"/><circle cx="123.7" cy="646.9" r="5.4"/><circle cx="118.9" cy="661.7" r="5.4"/><circle cx="126.7" cy="656.7" r="5.4"/><circle cx="121.9" cy="677.7" r="5.4"/><circle cx="129.6" cy="664.1" r="5.4"/><circle cx="124.8" cy="656.9" r="5.4"/><circle cx="120.0" cy="663.0" r="5.4"/><circle cx="127.8" cy="664.5" r="5.4"/><circle cx="123.0" cy="666.6" r="5.4"/><circle cx="118.2" cy="658.8" r="5.4"/><circle cx="126.0" cy="674.4" r="5.4"/><circle cx="121.1" cy="662.9" r="5.4"/><circle cx="128.9" cy="672.0" r="5.4"/><circle cx="124.1" cy="669.5" r="5.4"/><circle cx="119.3" cy="669.0" r="5.4"/><circle cx="127.1" cy="665.5" r="5.4"/><circle cx="122.3" cy="653.6" r="5.4"/><circle cx="130.1" cy="652.6" r="5.4"/><circle cx="125.3" cy="654.6" r="5.4"/><circle cx="120.4" cy="651.0" r="5.4"/><circle cx="128.2" cy="673.3" r="5.4"/><circle cx="123.4" cy="670.7" r="5.4"/><circle cx="118.6" cy="666.1" r="5.4"/><circle cx="126.4" cy="657.8" r="5.4"/><circle cx="121.6" cy="654.1" r="5.4"/><circle cx="129.4" cy="660.8" r="5.4"/><circle cx="124.6" cy="661.3" r="5.4"/><circle cx="119.7" cy="644.5" r="5.4"/><circle cx="127.5" cy="648.2" r="5.4"/><circle cx="122.7" cy="675.6" r="5.4"/><circle cx="117.9" cy="678.9" r="5.4"/><circle cx="125.7" cy="673.0" r="5.4"/><circle cx="120.9" cy="668.5" r="5.4"/><circle cx="128.7" cy="650.3" r="5.4"/></g>
<g fill="#DAA520" fill-opacity="0.16" stroke="#DAA520" stroke-opacity="0.25" stroke-width="0.8"><circle cx="162.5" cy="708.0" r="5.4"/><circle cx="157.9" cy="667.8" r="5.4"/><circle cx="165.7" cy="677.7" r="5.4"/><circle cx="160.9" cy="660.7" r="5.4"/><circle cx="156.1" cy="670.1" r="5.4"/><circle cx="163.8" cy="646.1" r="5.4"/><circle cx="159.0" cy="659.6" r="5.4"/><circle cx="166.8" cy="667.1" r="5.4"/><circle cx="162.0" cy="641.4" r="5.4"/><circle cx="157.2" cy="651.1" r="5.4"/><circle cx="165.0" cy="671.1" r="5.4"/><circle cx="160.2" cy="666.2" r="5.4"/><circle cx="168.0" cy="645.0" r="5.4"/><circle cx="163.1" cy="652.6" r="5.4"/><circle cx="158.3" cy="684.0" r="5.4"/><circle cx="166.1" cy="655.6" r="5.4"/><circle cx="161.3" cy="669.2" r="5.4"/><circle cx="156.5" cy="647.1" r="5.4"/><circle cx="164.3" cy="664.8" r="5.4"/><circle cx="159.5" cy="649.0" r="5.4"/><circle cx="167.3" cy="654.4" r="5.4"/><circle cx="162.4" cy="675.8" r="5.4"/><circle cx="157.6" cy="656.5" r="5.4"/><circle cx="165.4" cy="682.7" r="5.4"/><circle cx="160.6" cy="643.1" r="5.4"/><circle cx="155.8" cy="657.4" r="5.4"/><circle cx="163.6" cy="661.5" r="5.4"/><circle cx="158.8" cy="663.2" r="5.4"/><circle cx="166.5" cy="664.2" r="5.4"/><circle cx="161.7" cy="657.9" r="5.4"/><circle cx="156.9" cy="676.6" r="5.4"/><circle cx="164.7" cy="650.7" r="5.4"/><circle cx="159.9" cy="679.7" r="5.4"/><circle cx="167.7" cy="666.0" r="5.4"/><circle cx="162.9" cy="653.2" r="5.4"/><circle cx="158.1" cy="673.5" r="5.4"/><circle cx="165.8" cy="648.7" r="5.4"/><circle cx="161.0" cy="671.9" r="5.4"/><circle cx="156.2" cy="679.2" r="5.4"/><circle cx="164.0" cy="658.9" r="5.4"/><circle cx="159.2" cy="673.7" r="5.4"/><circle cx="167.0" cy="681.0" r="5.4"/><circle cx="162.2" cy="661.9" r="5.4"/></g>
<g fill="#000000" fill-opacity="0.16" stroke="#000000" stroke-opacity="0.25" stroke-width="0.8"><circle cx="221.9" cy="696.6" r="5.4"/><circle cx="228.9" cy="652.6" r="5.4"/><circle cx="224.1" cy="651.8" r="5.4"/><circle cx="219.3" cy="647.4" r="5.4"/><circle cx="227.1" cy="664.9" r="5.4"/><circle cx="222.3" cy="644.9" r="5.4"/><circle cx="230.1" cy="648.0" r="5.4"/><circle cx="225.2" cy="657.2" r="5.4"/><circle cx="220.4" cy="675.7" r="5.4"/><circle cx="228.2" cy="664.3" r="5.4"/><circle cx="223.4" cy="673.4" r="5.4"/><circle cx="218.6" cy="658.3" r="5.4"/><circle cx="226.4" cy="640.1" r="5.4"/><circle cx="221.6" cy="662.8" r="5.4"/><circle cx="229.4" cy="672.0" r="5.4"/><circle cx="224.5" cy="677.1" r="5.4"/><circle cx="219.7" cy="670.9" r="5.4"/><circle cx="227.5" cy="638.6" r="5.4"/><circle cx="222.7" cy="679.1" r="5.4"/><circle cx="230.5" cy="674.8" r="5.4"/><circle cx="225.7" cy="660.3" r="5.4"/><circle cx="220.9" cy="644.2" r="5.4"/><circle cx="228.6" cy="656.6" r="5.4"/><circle cx="223.8" cy="654.8" r="5.4"/><circle cx="219.0" cy="649.5" r="5.4"/><circle cx="226.8" cy="663.2" r="5.4"/><circle cx="222.0" cy="645.8" r="5.4"/><circle cx="229.8" cy="667.2" r="5.4"/><circle cx="225.0" cy="643.6" r="5.4"/><circle cx="220.2" cy="652.8" r="5.4"/><circle cx="227.9" cy="636.7" r="5.4"/><circle cx="223.1" cy="655.9" r="5.4"/><circle cx="218.3" cy="668.9" r="5.4"/><circle cx="226.1" cy="659.2" r="5.4"/><circle cx="221.3" cy="653.6" r="5.4"/><circle cx="229.1" cy="641.0" r="5.4"/><circle cx="224.3" cy="642.2" r="5.4"/><circle cx="219.5" cy="661.9" r="5.4"/><circle cx="227.2" cy="660.1" r="5.4"/><circle cx="222.4" cy="670.1" r="5.4"/><circle cx="230.2" cy="650.5" r="5.4"/><circle cx="225.4" cy="666.4" r="5.4"/><circle cx="220.6" cy="648.5" r="5.4"/></g>
<g fill="#DAA520" fill-opacity="0.16" stroke="#DAA520" stroke-opacity="0.25" stroke-width="0.8"><circle cx="258.5" cy="624.2" r="5.4"/><circle cx="264.6" cy="661.6" r="5.4"/><circle cx="259.8" cy="658.8" r="5.4"/><circle cx="267.5" cy="635.3" r="5.4"/><circle cx="262.7" cy="673.1" r="5.4"/><circle cx="257.9" cy="667.2" r="5.4"/><circle cx="265.7" cy="652.5" r="5.4"/><circle cx="260.9" cy="674.3" r="5.4"/><circle cx="268.7" cy="633.9" r="5.4"/><circle cx="263.9" cy="657.1" r="5.4"/><circle cx="259.1" cy="679.3" r="5.4"/><circle cx="266.8" cy="640.0" r="5.4"/><circle cx="262.0" cy="669.0" r="5.4"/><circle cx="257.2" cy="657.8" r="5.4"/><circle cx="265.0" cy="656.2" r="5.4"/><circle cx="260.2" cy="671.7" r="5.4"/><circle cx="268.0" cy="651.5" r="5.4"/><circle cx="263.2" cy="647.9" r="5.4"/><circle cx="258.4" cy="636.5" r="5.4"/><circle cx="266.1" cy="684.2" r="5.4"/><circle cx="261.3" cy="664.8" r="5.4"/><circle cx="256.5" cy="649.4" r="5.4"/><circle cx="264.3" cy="677.2" r="5.4"/><circle cx="259.5" cy="668.2" r="5.4"/><circle cx="267.3" cy="642.8" r="5.4"/><circle cx="262.5" cy="650.3" r="5.4"/><circle cx="257.7" cy="680.4" r="5.4"/><circle cx="265.4" cy="678.1" r="5.4"/><circle cx="260.6" cy="645.1" r="5.4"/><circle cx="268.4" cy="660.8" r="5.4"/><circle cx="263.6" cy="653.7" r="5.4"/><circle cx="258.8" cy="646.6" r="5.4"/><circle cx="266.6" cy="659.4" r="5.4"/><circle cx="261.8" cy="662.4" r="5.4"/><circle cx="257.0" cy="674.8" r="5.4"/><circle cx="264.7" cy="638.7" r="5.4"/><circle cx="259.9" cy="669.7" r="5.4"/><circle cx="267.7" cy="663.6" r="5.4"/><circle cx="262.9" cy="643.6" r="5.4"/><circle cx="258.1" cy="665.4" r="5.4"/><circle cx="265.9" cy="641.0" r="5.4"/><circle cx="261.1" cy="654.6" r="5.4"/><circle cx="256.3" cy="683.1" r="5.4"/></g>
<circle cx="124.0" cy="664.9" r="6" fill="#000000"/>
<circle cx="160.6" cy="663.7" r="6" fill="#DAA520"/>
<circle cx="224.1" cy="660.1" r="6" fill="#000000"/>
<circle cx="261.8" cy="657.9" r="6" fill="#DAA520"/>
<line x1="375.2" y1="645.8" x2="475.7" y2="639.2" stroke="#000000" stroke-width="5.2" stroke-dasharray="20 20"/>
<line x1="412.9" y1="642.1" x2="513.2" y2="635.8" stroke="#DAA520" stroke-width="5.2" stroke-dasharray="20 20"/>
<rect x="359.95" y="615.0" width="3.9" height="22.9" fill="#000000"/>
<rect x="359.95" y="657.2" width="3.9" height="17.4" fill="#000000"/>
<rect x="357.95" y="637.4" width="7.9" height="5.6" fill="#000000"/>
<rect x="357.95" y="644.8" width="7.9" height="12.9" fill="#000000"/>
<rect x="397.25" y="613.3" width="3.9" height="20.2" fill="#DAA520"/>
<rect x="397.25" y="654.5" width="3.9" height="21.0" fill="#DAA520"/>
<rect x="395.25" y="633.0" width="7.9" height="9.3" fill="#DAA520"/>
<rect x="395.25" y="644.1" width="7.9" height="10.9" fill="#DAA520"/>
<rect x="460.15" y="598.0" width="3.9" height="31.2" fill="#000000"/>
<rect x="460.15" y="647.2" width="3.9" height="20.3" fill="#000000"/>
<rect x="458.15" y="628.7" width="7.9" height="9.5" fill="#000000"/>
<rect x="458.15" y="640.0" width="7.9" height="7.7" fill="#000000"/>
<rect x="497.45" y="588.8" width="3.9" height="37.8" fill="#DAA520"/>
<rect x="497.45" y="643.3" width="3.9" height="24.8" fill="#DAA520"/>
<rect x="495.45" y="626.1" width="7.9" height="10.0" fill="#DAA520"/>
<rect x="495.45" y="637.9" width="7.9" height="5.9" fill="#DAA520"/>
<g fill="#000000" fill-opacity="0.16" stroke="#000000" stroke-opacity="0.25" stroke-width="0.8"><circle cx="373.7" cy="614.4" r="5.4"/><circle cx="377.1" cy="619.1" r="5.4"/><circle cx="381.1" cy="623.2" r="5.4"/><circle cx="369.6" cy="625.2" r="5.4"/><circle cx="369.6" cy="673.2" r="5.4"/><circle cx="377.7" cy="675.3" r="5.4"/><circle cx="381.3" cy="649.2" r="5.4"/><circle cx="376.5" cy="659.5" r="5.4"/><circle cx="371.7" cy="640.2" r="5.4"/><circle cx="379.5" cy="654.5" r="5.4"/><circle cx="374.7" cy="639.5" r="5.4"/><circle cx="369.9" cy="661.8" r="5.4"/><circle cx="377.7" cy="636.7" r="5.4"/><circle cx="372.9" cy="643.7" r="5.4"/><circle cx="380.6" cy="669.3" r="5.4"/><circle cx="375.8" cy="655.3" r="5.4"/><circle cx="371.0" cy="641.4" r="5.4"/><circle cx="378.8" cy="647.0" r="5.4"/><circle cx="374.0" cy="653.5" r="5.4"/><circle cx="369.2" cy="651.0" r="5.4"/><circle cx="377.0" cy="646.0" r="5.4"/><circle cx="372.2" cy="658.0" r="5.4"/><circle cx="379.9" cy="662.7" r="5.4"/><circle cx="375.1" cy="638.6" r="5.4"/><circle cx="370.3" cy="645.1" r="5.4"/><circle cx="378.1" cy="643.2" r="5.4"/><circle cx="373.3" cy="644.7" r="5.4"/><circle cx="381.1" cy="663.8" r="5.4"/><circle cx="376.3" cy="651.8" r="5.4"/><circle cx="371.4" cy="637.7" r="5.4"/><circle cx="379.2" cy="660.5" r="5.4"/><circle cx="374.4" cy="656.7" r="5.4"/><circle cx="369.6" cy="652.8" r="5.4"/><circle cx="377.4" cy="659.4" r="5.4"/><circle cx="372.6" cy="667.5" r="5.4"/><circle cx="380.4" cy="650.3" r="5.4"/><circle cx="375.6" cy="642.6" r="5.4"/><circle cx="370.7" cy="666.0" r="5.4"/><circle cx="378.5" cy="657.6" r="5.4"/><circle cx="373.7" cy="635.0" r="5.4"/><circle cx="368.9" cy="665.7" r="5.4"/><circle cx="376.7" cy="648.2" r="5.4"/><circle cx="371.9" cy="648.0" r="5.4"/></g>
<g fill="#DAA520" fill-opacity="0.16" stroke="#DAA520" stroke-opacity="0.25" stroke-width="0.8"><circle cx="416.1" cy="675.3" r="5.4"/><circle cx="411.9" cy="630.9" r="5.4"/><circle cx="407.1" cy="638.2" r="5.4"/><circle cx="414.9" cy="646.6" r="5.4"/><circle cx="410.1" cy="651.6" r="5.4"/><circle cx="417.9" cy="633.9" r="5.4"/><circle cx="413.1" cy="638.4" r="5.4"/><circle cx="408.3" cy="637.2" r="5.4"/><circle cx="416.0" cy="646.0" r="5.4"/><circle cx="411.2" cy="642.8" r="5.4"/><circle cx="419.0" cy="650.4" r="5.4"/><circle cx="414.2" cy="617.6" r="5.4"/><circle cx="409.4" cy="624.6" r="5.4"/><circle cx="417.2" cy="656.1" r="5.4"/><circle cx="412.4" cy="659.5" r="5.4"/><circle cx="407.6" cy="664.1" r="5.4"/><circle cx="415.3" cy="627.6" r="5.4"/><circle cx="410.5" cy="659.0" r="5.4"/><circle cx="418.3" cy="642.2" r="5.4"/><circle cx="413.5" cy="653.5" r="5.4"/><circle cx="408.7" cy="661.5" r="5.4"/><circle cx="416.5" cy="626.4" r="5.4"/><circle cx="411.7" cy="622.9" r="5.4"/><circle cx="419.4" cy="652.4" r="5.4"/><circle cx="414.6" cy="618.7" r="5.4"/><circle cx="409.8" cy="640.9" r="5.4"/><circle cx="417.6" cy="621.7" r="5.4"/><circle cx="412.8" cy="616.3" r="5.4"/><circle cx="408.0" cy="620.2" r="5.4"/><circle cx="415.8" cy="639.7" r="5.4"/><circle cx="411.0" cy="647.7" r="5.4"/><circle cx="418.7" cy="630.5" r="5.4"/><circle cx="413.9" cy="644.0" r="5.4"/><circle cx="409.1" cy="634.7" r="5.4"/><circle cx="416.9" cy="644.5" r="5.4"/><circle cx="412.1" cy="654.9" r="5.4"/><circle cx="407.3" cy="635.3" r="5.4"/><circle cx="415.1" cy="625.4" r="5.4"/><circle cx="410.3" cy="657.6" r="5.4"/><circle cx="418.0" cy="649.2" r="5.4"/><circle cx="413.2" cy="613.2" r="5.4"/><circle cx="408.4" cy="628.6" r="5.4"/><circle cx="416.2" cy="632.5" r="5.4"/></g>
<g fill="#000000" fill-opacity="0.16" stroke="#000000" stroke-opacity="0.25" stroke-width="0.8"><circle cx="473.3" cy="597.3" r="5.4"/><circle cx="473.3" cy="613.3" r="5.4"/><circle cx="477.0" cy="656.5" r="5.4"/><circle cx="472.2" cy="648.7" r="5.4"/><circle cx="480.0" cy="664.3" r="5.4"/><circle cx="475.2" cy="640.8" r="5.4"/><circle cx="470.4" cy="625.4" r="5.4"/><circle cx="478.1" cy="647.8" r="5.4"/><circle cx="473.3" cy="632.9" r="5.4"/><circle cx="481.1" cy="658.0" r="5.4"/><circle cx="476.3" cy="654.8" r="5.4"/><circle cx="471.5" cy="641.9" r="5.4"/><circle cx="479.3" cy="655.5" r="5.4"/><circle cx="474.5" cy="665.4" r="5.4"/><circle cx="469.7" cy="644.0" r="5.4"/><circle cx="477.4" cy="661.4" r="5.4"/><circle cx="472.6" cy="632.2" r="5.4"/><circle cx="480.4" cy="652.9" r="5.4"/><circle cx="475.6" cy="645.3" r="5.4"/><circle cx="470.8" cy="643.0" r="5.4"/><circle cx="478.6" cy="652.8" r="5.4"/><circle cx="473.8" cy="649.8" r="5.4"/><circle cx="481.6" cy="626.4" r="5.4"/><circle cx="476.7" cy="662.9" r="5.4"/><circle cx="471.9" cy="634.6" r="5.4"/><circle cx="479.7" cy="637.1" r="5.4"/><circle cx="474.9" cy="622.7" r="5.4"/><circle cx="470.1" cy="629.2" r="5.4"/><circle cx="477.9" cy="637.9" r="5.4"/><circle cx="473.1" cy="647.4" r="5.4"/><circle cx="480.8" cy="620.4" r="5.4"/><circle cx="476.0" cy="658.8" r="5.4"/><circle cx="471.2" cy="628.9" r="5.4"/><circle cx="479.0" cy="625.0" r="5.4"/><circle cx="474.2" cy="627.2" r="5.4"/><circle cx="469.4" cy="630.4" r="5.4"/><circle cx="477.2" cy="621.0" r="5.4"/><circle cx="472.4" cy="631.0" r="5.4"/><circle cx="480.1" cy="623.7" r="5.4"/><circle cx="475.3" cy="659.5" r="5.4"/><circle cx="470.5" cy="651.2" r="5.4"/><circle cx="478.3" cy="635.4" r="5.4"/><circle cx="473.5" cy="639.1" r="5.4"/></g>
<g fill="#DAA520" fill-opacity="0.16" stroke="#DAA520" stroke-opacity="0.25" stroke-width="0.8"><circle cx="518.6" cy="588.1" r="5.4"/><circle cx="510.2" cy="668.4" r="5.4"/><circle cx="509.1" cy="642.1" r="5.4"/><circle cx="516.9" cy="645.3" r="5.4"/><circle cx="512.1" cy="617.8" r="5.4"/><circle cx="507.3" cy="647.9" r="5.4"/><circle cx="515.1" cy="621.8" r="5.4"/><circle cx="510.3" cy="627.9" r="5.4"/><circle cx="518.1" cy="654.7" r="5.4"/><circle cx="513.3" cy="635.7" r="5.4"/><circle cx="508.4" cy="638.8" r="5.4"/><circle cx="516.2" cy="624.2" r="5.4"/><circle cx="511.4" cy="644.4" r="5.4"/><circle cx="519.2" cy="630.4" r="5.4"/><circle cx="514.4" cy="623.3" r="5.4"/><circle cx="509.6" cy="626.5" r="5.4"/><circle cx="517.4" cy="641.3" r="5.4"/><circle cx="512.6" cy="637.0" r="5.4"/><circle cx="507.7" cy="657.1" r="5.4"/><circle cx="515.5" cy="618.9" r="5.4"/><circle cx="510.7" cy="633.0" r="5.4"/><circle cx="518.5" cy="631.4" r="5.4"/><circle cx="513.7" cy="628.8" r="5.4"/><circle cx="508.9" cy="643.3" r="5.4"/><circle cx="516.7" cy="648.8" r="5.4"/><circle cx="511.8" cy="629.7" r="5.4"/><circle cx="519.6" cy="650.2" r="5.4"/><circle cx="514.8" cy="639.7" r="5.4"/><circle cx="510.0" cy="634.0" r="5.4"/><circle cx="517.8" cy="622.6" r="5.4"/><circle cx="513.0" cy="615.7" r="5.4"/><circle cx="508.2" cy="652.0" r="5.4"/><circle cx="516.0" cy="643.0" r="5.4"/><circle cx="511.1" cy="652.8" r="5.4"/><circle cx="518.9" cy="625.0" r="5.4"/><circle cx="514.1" cy="613.3" r="5.4"/><circle cx="509.3" cy="646.8" r="5.4"/><circle cx="517.1" cy="636.4" r="5.4"/><circle cx="512.3" cy="627.4" r="5.4"/><circle cx="507.5" cy="634.7" r="5.4"/><circle cx="515.3" cy="638.3" r="5.4"/><circle cx="510.4" cy="619.8" r="5.4"/><circle cx="518.2" cy="632.4" r="5.4"/></g>
<circle cx="375.2" cy="645.8" r="6" fill="#000000"/>
<circle cx="412.9" cy="642.1" r="6" fill="#DAA520"/>
<circle cx="475.7" cy="639.2" r="6" fill="#000000"/>
<circle cx="513.2" cy="635.8" r="6" fill="#DAA520"/>
<path d="M60.7 34.40V224.80" stroke="#000" stroke-width="1.6" fill="none"/>
<path d="M56.2 35.00H60.7" stroke="#000" stroke-width="1.2" fill="none"/>
<text x="52.6" y="41.7" text-anchor="end" font-family="Liberation Sans, Arial, Helvetica, sans-serif" font-size="19.1" fill="#4D4D4D">0.4</text>
<path d="M56.2 82.30H60.7" stroke="#000" stroke-width="1.2" fill="none"/>
<text x="52.6" y="89.0" text-anchor="end" font-family="Liberation Sans, Arial, Helvetica, sans-serif" font-size="19.1" fill="#4D4D4D">0.3</text>
<path d="M56.2 129.60H60.7" stroke="#000" stroke-width="1.2" fill="none"/>
<text x="52.6" y="136.3" text-anchor="end" font-family="Liberation Sans, Arial, Helvetica, sans-serif" font-size="19.1" fill="#4D4D4D">0.2</text>
<path d="M56.2 176.90H60.7" stroke="#000" stroke-width="1.2" fill="none"/>
<text x="52.6" y="183.6" text-anchor="end" font-family="Liberation Sans, Arial, Helvetica, sans-serif" font-size="19.1" fill="#4D4D4D">0.1</text>
<path d="M56.2 224.20H60.7" stroke="#000" stroke-width="1.2" fill="none"/>
<text x="52.6" y="230.9" text-anchor="end" font-family="Liberation Sans, Arial, Helvetica, sans-serif" font-size="19.1" fill="#4D4D4D">0.0</text>
<path d="M60.7 297.40V475.48" stroke="#000" stroke-width="1.6" fill="none"/>
<path d="M56.2 298.00H60.7" stroke="#000" stroke-width="1.2" fill="none"/>
<text x="52.6" y="304.7" text-anchor="end" font-family="Liberation Sans, Arial, Helvetica, sans-serif" font-size="19.1" fill="#4D4D4D">0.8</text>
<path d="M56.2 342.22H60.7" stroke="#000" stroke-width="1.2" fill="none"/>
<text x="52.6" y="348.9" text-anchor="end" font-family="Liberation Sans, Arial, Helvetica, sans-serif" font-size="19.1" fill="#4D4D4D">0.6</text>
<path d="M56.2 386.44H60.7" stroke="#000" stroke-width="1.2" fill="none"/>
<text x="52.6" y="393.1" text-anchor="end" font-family="Liberation Sans, Arial, Helvetica, sans-serif" font-size="19.1" fill="#4D4D4D">0.4</text>
<path d="M56.2 430.66H60.7" stroke="#000" stroke-width="1.2" fill="none"/>
<text x="52.6" y="437.4" text-anchor="end" font-family="Liberation Sans, Arial, Helvetica, sans-serif" font-size="19.1" fill="#4D4D4D">0.2</text>
<path d="M56.2 474.88H60.7" stroke="#000" stroke-width="1.2" fill="none"/>
<text x="52.6" y="481.6" text-anchor="end" font-family="Liberation Sans, Arial, Helvetica, sans-serif" font-size="19.1" fill="#4D4D4D">0.0</text>
<path d="M60.7 552.70V731.29" stroke="#000" stroke-width="1.6" fill="none"/>
<path d="M56.2 553.30H60.7" stroke="#000" stroke-width="1.2" fill="none"/>
<text x="52.6" y="560.0" text-anchor="end" font-family="Liberation Sans, Arial, Helvetica, sans-serif" font-size="19.1" fill="#4D4D4D">0.8</text>
<path d="M56.2 612.43H60.7" stroke="#000" stroke-width="1.2" fill="none"/>
<text x="52.6" y="619.1" text-anchor="end" font-family="Liberation Sans, Arial, Helvetica, sans-serif" font-size="19.1" fill="#4D4D4D">0.6</text>
<path d="M56.2 671.56H60.7" stroke="#000" stroke-width="1.2" fill="none"/>
<text x="52.6" y="678.3" text-anchor="end" font-family="Liberation Sans, Arial, Helvetica, sans-serif" font-size="19.1" fill="#4D4D4D">0.4</text>
<path d="M56.2 730.69H60.7" stroke="#000" stroke-width="1.2" fill="none"/>
<text x="52.6" y="737.4" text-anchor="end" font-family="Liberation Sans, Arial, Helvetica, sans-serif" font-size="19.1" fill="#4D4D4D">0.2</text>
<path d="M142.3 233.9H243.9" stroke="#000" stroke-width="1.6" fill="none"/>
<path d="M142.9 233.9V238.20000000000002M243.3 233.9V238.20000000000002" stroke="#000" stroke-width="1.2" fill="none"/>
<text x="143.5" y="254.9" text-anchor="middle" font-family="Liberation Sans, Arial, Helvetica, sans-serif" font-size="19.4" fill="#4D4D4D">Large</text>
<text x="243.3" y="254.9" text-anchor="middle" font-family="Liberation Sans, Arial, Helvetica, sans-serif" font-size="19.4" fill="#4D4D4D">Small</text>
<path d="M393.7 233.9H495.1" stroke="#000" stroke-width="1.6" fill="none"/>
<path d="M394.3 233.9V238.20000000000002M494.5 233.9V238.20000000000002" stroke="#000" stroke-width="1.2" fill="none"/>
<text x="394.90000000000003" y="254.9" text-anchor="middle" font-family="Liberation Sans, Arial, Helvetica, sans-serif" font-size="19.4" fill="#4D4D4D">Large</text>
<text x="494.5" y="254.9" text-anchor="middle" font-family="Liberation Sans, Arial, Helvetica, sans-serif" font-size="19.4" fill="#4D4D4D">Small</text>
<path d="M142.3 475.2H243.9" stroke="#000" stroke-width="1.6" fill="none"/>
<path d="M142.9 475.2V479.5M243.3 475.2V479.5" stroke="#000" stroke-width="1.2" fill="none"/>
<text x="143.5" y="497.2" text-anchor="middle" font-family="Liberation Sans, Arial, Helvetica, sans-serif" font-size="19.4" fill="#4D4D4D">Large</text>
<text x="243.3" y="497.2" text-anchor="middle" font-family="Liberation Sans, Arial, Helvetica, sans-serif" font-size="19.4" fill="#4D4D4D">Small</text>
<path d="M393.7 475.2H495.1" stroke="#000" stroke-width="1.6" fill="none"/>
<path d="M394.3 475.2V479.5M494.5 475.2V479.5" stroke="#000" stroke-width="1.2" fill="none"/>
<text x="394.90000000000003" y="497.2" text-anchor="middle" font-family="Liberation Sans, Arial, Helvetica, sans-serif" font-size="19.4" fill="#4D4D4D">Large</text>
<text x="494.5" y="497.2" text-anchor="middle" font-family="Liberation Sans, Arial, Helvetica, sans-serif" font-size="19.4" fill="#4D4D4D">Small</text>
<path d="M142.3 730.7H243.9" stroke="#000" stroke-width="1.6" fill="none"/>
<path d="M142.9 730.7V735.0M243.3 730.7V735.0" stroke="#000" stroke-width="1.2" fill="none"/>
<text x="143.5" y="752.7" text-anchor="middle" font-family="Liberation Sans, Arial, Helvetica, sans-serif" font-size="19.4" fill="#4D4D4D">Large</text>
<text x="243.3" y="752.7" text-anchor="middle" font-family="Liberation Sans, Arial, Helvetica, sans-serif" font-size="19.4" fill="#4D4D4D">Small</text>
<path d="M393.7 730.7H495.1" stroke="#000" stroke-width="1.6" fill="none"/>
<path d="M394.3 730.7V735.0M494.5 730.7V735.0" stroke="#000" stroke-width="1.2" fill="none"/>
<text x="394.90000000000003" y="752.7" text-anchor="middle" font-family="Liberation Sans, Arial, Helvetica, sans-serif" font-size="19.4" fill="#4D4D4D">Large</text>
<text x="494.5" y="752.7" text-anchor="middle" font-family="Liberation Sans, Arial, Helvetica, sans-serif" font-size="19.4" fill="#4D4D4D">Small</text>
<text transform="translate(18.8 129.6) rotate(-90)" text-anchor="middle" font-family="Liberation Sans, Arial, Helvetica, sans-serif" font-size="24.1" fill="#000">CoM score</text>
<text transform="translate(18.8 386.5) rotate(-90)" text-anchor="middle" font-family="Liberation Sans, Arial, Helvetica, sans-serif" font-size="24.1" fill="#000">CoM diff. score</text>
<text transform="translate(18.8 642) rotate(-90)" text-anchor="middle" font-family="Liberation Sans, Arial, Helvetica, sans-serif" font-size="24.1" fill="#000">CoM reaction time (s)</text>
<text x="182" y="23.3" text-anchor="middle" font-family="Liberation Sans, Arial, Helvetica, sans-serif" font-size="19.5" fill="#1A1A1A">Short deadline</text>
<text x="433.3" y="23.3" text-anchor="middle" font-family="Liberation Sans, Arial, Helvetica, sans-serif" font-size="19.5" fill="#1A1A1A">Long deadline</text>
<text x="317.5" y="774.1" text-anchor="middle" font-family="Liberation Sans, Arial, Helvetica, sans-serif" font-size="24.3" fill="#000">Offset</text>
<text x="0" y="19" font-family="DejaVu Sans, Liberation Sans, sans-serif" font-weight="bold" font-size="24" fill="#000">a</text>
<text transform="translate(15.9 21.05) scale(1.24 1.121)" x="0" y="0" font-family="DejaVu Sans, Liberation Sans, sans-serif" font-weight="bold" font-size="24" fill="#000">)</text>
<text x="-0.6" y="281.8" font-family="DejaVu Sans, Liberation Sans, sans-serif" font-weight="bold" font-size="24" fill="#000">b</text>
<text transform="translate(15.9 283.85) scale(1.24 1.121)" x="0" y="0" font-family="DejaVu Sans, Liberation Sans, sans-serif" font-weight="bold" font-size="24" fill="#000">)</text>
<text x="0.8" y="510.7" font-family="DejaVu Sans, Liberation Sans, sans-serif" font-weight="bold" font-size="24" fill="#000">c</text>
<text transform="translate(15.9 512.75) scale(1.24 1.121)" x="0" y="0" font-family="DejaVu Sans, Liberation Sans, sans-serif" font-weight="bold" font-size="24" fill="#000">)</text>
<text x="556" y="368.4" font-family="Liberation Sans, Arial, Helvetica, sans-serif" font-size="24.3" fill="#000">Coherence</text>
<path d="M558.4 396.1H579" stroke="#000000" stroke-width="5.2"/>
<circle cx="568.7" cy="396.1" r="6" fill="#000000"/>
<text x="594.4" y="402.5" font-family="Liberation Sans, Arial, Helvetica, sans-serif" font-size="19.5" fill="#000">High</text>
<path d="M558.4 422.6H579" stroke="#DAA520" stroke-width="5.2"/>
<circle cx="568.7" cy="422.6" r="6" fill="#DAA520"/>
<text x="594.4" y="429.5" font-family="Liberation Sans, Arial, Helvetica, sans-serif" font-size="19.5" fill="#000">Low</text>
</svg>
</body></html>
